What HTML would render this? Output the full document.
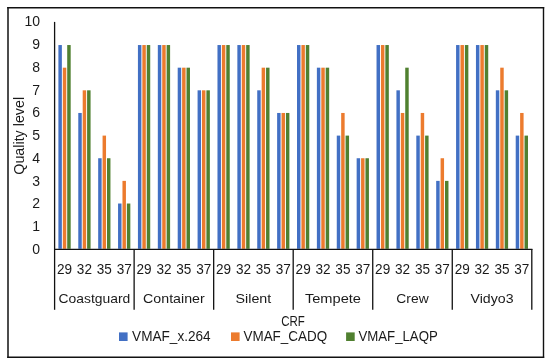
<!DOCTYPE html>
<html><head><meta charset="utf-8"><style>
html,body{margin:0;padding:0;background:#fff;}
svg{display:block;}
.t{font-family:"Liberation Sans",Arial,sans-serif;font-size:14px;fill:#1a1a1a;}
</style></head><body>
<svg width="550" height="364" viewBox="0 0 550 364">
<rect x="0" y="0" width="550" height="364" fill="#fff"/>
<g stroke="#111" fill="none"><line x1="8" y1="7" x2="8" y2="358" stroke-width="1.5"/><line x1="7.25" y1="7.75" x2="544.2" y2="7.75" stroke-width="1.5"/><line x1="543.5" y1="7" x2="543.5" y2="358" stroke-width="1.4"/><line x1="7.25" y1="357.3" x2="544.2" y2="357.3" stroke-width="1.4"/></g>
<rect x="58.40" y="45.04" width="3.47" height="203.76" fill="#4270C4"/><rect x="62.81" y="67.68" width="3.47" height="181.12" fill="#EC7B2E"/><rect x="67.21" y="45.04" width="3.47" height="203.76" fill="#508030"/><rect x="78.28" y="112.96" width="3.47" height="135.84" fill="#4270C4"/><rect x="82.69" y="90.32" width="3.47" height="158.48" fill="#EC7B2E"/><rect x="87.10" y="90.32" width="3.47" height="158.48" fill="#508030"/><rect x="98.17" y="158.24" width="3.47" height="90.56" fill="#4270C4"/><rect x="102.57" y="135.60" width="3.47" height="113.20" fill="#EC7B2E"/><rect x="106.98" y="158.24" width="3.47" height="90.56" fill="#508030"/><rect x="118.05" y="203.52" width="3.47" height="45.28" fill="#4270C4"/><rect x="122.46" y="180.88" width="3.47" height="67.92" fill="#EC7B2E"/><rect x="126.86" y="203.52" width="3.47" height="45.28" fill="#508030"/><rect x="137.93" y="45.04" width="3.47" height="203.76" fill="#4270C4"/><rect x="142.34" y="45.04" width="3.47" height="203.76" fill="#EC7B2E"/><rect x="146.75" y="45.04" width="3.47" height="203.76" fill="#508030"/><rect x="157.82" y="45.04" width="3.47" height="203.76" fill="#4270C4"/><rect x="162.22" y="45.04" width="3.47" height="203.76" fill="#EC7B2E"/><rect x="166.63" y="45.04" width="3.47" height="203.76" fill="#508030"/><rect x="177.70" y="67.68" width="3.47" height="181.12" fill="#4270C4"/><rect x="182.11" y="67.68" width="3.47" height="181.12" fill="#EC7B2E"/><rect x="186.51" y="67.68" width="3.47" height="181.12" fill="#508030"/><rect x="197.58" y="90.32" width="3.47" height="158.48" fill="#4270C4"/><rect x="201.99" y="90.32" width="3.47" height="158.48" fill="#EC7B2E"/><rect x="206.40" y="90.32" width="3.47" height="158.48" fill="#508030"/><rect x="217.47" y="45.04" width="3.47" height="203.76" fill="#4270C4"/><rect x="221.87" y="45.04" width="3.47" height="203.76" fill="#EC7B2E"/><rect x="226.28" y="45.04" width="3.47" height="203.76" fill="#508030"/><rect x="237.35" y="45.04" width="3.47" height="203.76" fill="#4270C4"/><rect x="241.76" y="45.04" width="3.47" height="203.76" fill="#EC7B2E"/><rect x="246.16" y="45.04" width="3.47" height="203.76" fill="#508030"/><rect x="257.23" y="90.32" width="3.47" height="158.48" fill="#4270C4"/><rect x="261.64" y="67.68" width="3.47" height="181.12" fill="#EC7B2E"/><rect x="266.05" y="67.68" width="3.47" height="181.12" fill="#508030"/><rect x="277.12" y="112.96" width="3.47" height="135.84" fill="#4270C4"/><rect x="281.52" y="112.96" width="3.47" height="135.84" fill="#EC7B2E"/><rect x="285.93" y="112.96" width="3.47" height="135.84" fill="#508030"/><rect x="297.00" y="45.04" width="3.47" height="203.76" fill="#4270C4"/><rect x="301.41" y="45.04" width="3.47" height="203.76" fill="#EC7B2E"/><rect x="305.81" y="45.04" width="3.47" height="203.76" fill="#508030"/><rect x="316.88" y="67.68" width="3.47" height="181.12" fill="#4270C4"/><rect x="321.29" y="67.68" width="3.47" height="181.12" fill="#EC7B2E"/><rect x="325.70" y="67.68" width="3.47" height="181.12" fill="#508030"/><rect x="336.77" y="135.60" width="3.47" height="113.20" fill="#4270C4"/><rect x="341.17" y="112.96" width="3.47" height="135.84" fill="#EC7B2E"/><rect x="345.58" y="135.60" width="3.47" height="113.20" fill="#508030"/><rect x="356.65" y="158.24" width="3.47" height="90.56" fill="#4270C4"/><rect x="361.06" y="158.24" width="3.47" height="90.56" fill="#EC7B2E"/><rect x="365.46" y="158.24" width="3.47" height="90.56" fill="#508030"/><rect x="376.53" y="45.04" width="3.47" height="203.76" fill="#4270C4"/><rect x="380.94" y="45.04" width="3.47" height="203.76" fill="#EC7B2E"/><rect x="385.35" y="45.04" width="3.47" height="203.76" fill="#508030"/><rect x="396.42" y="90.32" width="3.47" height="158.48" fill="#4270C4"/><rect x="400.82" y="112.96" width="3.47" height="135.84" fill="#EC7B2E"/><rect x="405.23" y="67.68" width="3.47" height="181.12" fill="#508030"/><rect x="416.30" y="135.60" width="3.47" height="113.20" fill="#4270C4"/><rect x="420.71" y="112.96" width="3.47" height="135.84" fill="#EC7B2E"/><rect x="425.11" y="135.60" width="3.47" height="113.20" fill="#508030"/><rect x="436.18" y="180.88" width="3.47" height="67.92" fill="#4270C4"/><rect x="440.59" y="158.24" width="3.47" height="90.56" fill="#EC7B2E"/><rect x="445.00" y="180.88" width="3.47" height="67.92" fill="#508030"/><rect x="456.07" y="45.04" width="3.47" height="203.76" fill="#4270C4"/><rect x="460.47" y="45.04" width="3.47" height="203.76" fill="#EC7B2E"/><rect x="464.88" y="45.04" width="3.47" height="203.76" fill="#508030"/><rect x="475.95" y="45.04" width="3.47" height="203.76" fill="#4270C4"/><rect x="480.36" y="45.04" width="3.47" height="203.76" fill="#EC7B2E"/><rect x="484.76" y="45.04" width="3.47" height="203.76" fill="#508030"/><rect x="495.83" y="90.32" width="3.47" height="158.48" fill="#4270C4"/><rect x="500.24" y="67.68" width="3.47" height="181.12" fill="#EC7B2E"/><rect x="504.65" y="90.32" width="3.47" height="158.48" fill="#508030"/><rect x="515.72" y="135.60" width="3.47" height="113.20" fill="#4270C4"/><rect x="520.12" y="112.96" width="3.47" height="135.84" fill="#EC7B2E"/><rect x="524.53" y="135.60" width="3.47" height="113.20" fill="#508030"/>
<g stroke="#111" stroke-width="1.3">
<line x1="54.6" y1="21.9" x2="54.6" y2="249"/>
<line x1="54.0" y1="249.35" x2="532.4" y2="249.35" stroke-width="1.1"/>
<line x1="54.60" y1="249" x2="54.60" y2="309.8"/><line x1="134.13" y1="249" x2="134.13" y2="309.8"/><line x1="213.67" y1="249" x2="213.67" y2="309.8"/><line x1="293.20" y1="249" x2="293.20" y2="309.8"/><line x1="372.73" y1="249" x2="372.73" y2="309.8"/><line x1="452.27" y1="249" x2="452.27" y2="309.8"/><line x1="531.80" y1="249" x2="531.80" y2="309.8"/>
</g>
<text x="40" y="253.95" text-anchor="end" class="t">0</text><text x="40" y="231.20" text-anchor="end" class="t">1</text><text x="40" y="208.45" text-anchor="end" class="t">2</text><text x="40" y="185.70" text-anchor="end" class="t">3</text><text x="40" y="162.95" text-anchor="end" class="t">4</text><text x="40" y="140.20" text-anchor="end" class="t">5</text><text x="40" y="117.45" text-anchor="end" class="t">6</text><text x="40" y="94.70" text-anchor="end" class="t">7</text><text x="40" y="71.95" text-anchor="end" class="t">8</text><text x="40" y="49.20" text-anchor="end" class="t">9</text><text x="40" y="26.45" text-anchor="end" class="t">10</text>
<text x="64.54" y="273.8" text-anchor="middle" class="t" style="font-size:14.3px" textLength="15.1" lengthAdjust="spacingAndGlyphs">29</text><text x="84.42" y="273.8" text-anchor="middle" class="t" style="font-size:14.3px" textLength="15.1" lengthAdjust="spacingAndGlyphs">32</text><text x="104.31" y="273.8" text-anchor="middle" class="t" style="font-size:14.3px" textLength="15.1" lengthAdjust="spacingAndGlyphs">35</text><text x="124.19" y="273.8" text-anchor="middle" class="t" style="font-size:14.3px" textLength="15.1" lengthAdjust="spacingAndGlyphs">37</text><text x="144.07" y="273.8" text-anchor="middle" class="t" style="font-size:14.3px" textLength="15.1" lengthAdjust="spacingAndGlyphs">29</text><text x="163.96" y="273.8" text-anchor="middle" class="t" style="font-size:14.3px" textLength="15.1" lengthAdjust="spacingAndGlyphs">32</text><text x="183.84" y="273.8" text-anchor="middle" class="t" style="font-size:14.3px" textLength="15.1" lengthAdjust="spacingAndGlyphs">35</text><text x="203.72" y="273.8" text-anchor="middle" class="t" style="font-size:14.3px" textLength="15.1" lengthAdjust="spacingAndGlyphs">37</text><text x="223.61" y="273.8" text-anchor="middle" class="t" style="font-size:14.3px" textLength="15.1" lengthAdjust="spacingAndGlyphs">29</text><text x="243.49" y="273.8" text-anchor="middle" class="t" style="font-size:14.3px" textLength="15.1" lengthAdjust="spacingAndGlyphs">32</text><text x="263.37" y="273.8" text-anchor="middle" class="t" style="font-size:14.3px" textLength="15.1" lengthAdjust="spacingAndGlyphs">35</text><text x="283.26" y="273.8" text-anchor="middle" class="t" style="font-size:14.3px" textLength="15.1" lengthAdjust="spacingAndGlyphs">37</text><text x="303.14" y="273.8" text-anchor="middle" class="t" style="font-size:14.3px" textLength="15.1" lengthAdjust="spacingAndGlyphs">29</text><text x="323.02" y="273.8" text-anchor="middle" class="t" style="font-size:14.3px" textLength="15.1" lengthAdjust="spacingAndGlyphs">32</text><text x="342.91" y="273.8" text-anchor="middle" class="t" style="font-size:14.3px" textLength="15.1" lengthAdjust="spacingAndGlyphs">35</text><text x="362.79" y="273.8" text-anchor="middle" class="t" style="font-size:14.3px" textLength="15.1" lengthAdjust="spacingAndGlyphs">37</text><text x="382.67" y="273.8" text-anchor="middle" class="t" style="font-size:14.3px" textLength="15.1" lengthAdjust="spacingAndGlyphs">29</text><text x="402.56" y="273.8" text-anchor="middle" class="t" style="font-size:14.3px" textLength="15.1" lengthAdjust="spacingAndGlyphs">32</text><text x="422.44" y="273.8" text-anchor="middle" class="t" style="font-size:14.3px" textLength="15.1" lengthAdjust="spacingAndGlyphs">35</text><text x="442.32" y="273.8" text-anchor="middle" class="t" style="font-size:14.3px" textLength="15.1" lengthAdjust="spacingAndGlyphs">37</text><text x="462.21" y="273.8" text-anchor="middle" class="t" style="font-size:14.3px" textLength="15.1" lengthAdjust="spacingAndGlyphs">29</text><text x="482.09" y="273.8" text-anchor="middle" class="t" style="font-size:14.3px" textLength="15.1" lengthAdjust="spacingAndGlyphs">32</text><text x="501.97" y="273.8" text-anchor="middle" class="t" style="font-size:14.3px" textLength="15.1" lengthAdjust="spacingAndGlyphs">35</text><text x="521.86" y="273.8" text-anchor="middle" class="t" style="font-size:14.3px" textLength="15.1" lengthAdjust="spacingAndGlyphs">37</text>
<text x="94.37" y="303.2" text-anchor="middle" class="t" style="font-size:13.6px" textLength="71.8" lengthAdjust="spacingAndGlyphs">Coastguard</text><text x="173.90" y="303.2" text-anchor="middle" class="t" style="font-size:13.6px" textLength="61.6" lengthAdjust="spacingAndGlyphs">Container</text><text x="253.43" y="303.2" text-anchor="middle" class="t" style="font-size:13.6px" textLength="35.7" lengthAdjust="spacingAndGlyphs">Silent</text><text x="332.97" y="303.2" text-anchor="middle" class="t" style="font-size:13.6px" textLength="56.1" lengthAdjust="spacingAndGlyphs">Tempete</text><text x="412.50" y="303.2" text-anchor="middle" class="t" style="font-size:13.6px" textLength="32.3" lengthAdjust="spacingAndGlyphs">Crew</text><text x="492.03" y="303.2" text-anchor="middle" class="t" style="font-size:13.6px" textLength="43.0" lengthAdjust="spacingAndGlyphs">Vidyo3</text>
<text x="293" y="325.7" text-anchor="middle" class="t" textLength="23.6" lengthAdjust="spacingAndGlyphs">CRF</text>
<text transform="translate(23.5,135.8) rotate(-90)" text-anchor="middle" class="t" textLength="77.8" lengthAdjust="spacingAndGlyphs">Quality level</text>
<rect x="119" y="332.4" width="8.6" height="8.6" fill="#4270C4"/>
<text x="132.1" y="341" class="t" textLength="78.6" lengthAdjust="spacingAndGlyphs">VMAF_x.264</text>
<rect x="231" y="332.4" width="8.6" height="8.6" fill="#EC7B2E"/>
<text x="243.5" y="341" class="t" textLength="83.6" lengthAdjust="spacingAndGlyphs">VMAF_CADQ</text>
<rect x="346.1" y="332.4" width="8.6" height="8.6" fill="#508030"/>
<text x="358.4" y="341" class="t" textLength="79.4" lengthAdjust="spacingAndGlyphs">VMAF_LAQP</text>
</svg>
</body></html>
